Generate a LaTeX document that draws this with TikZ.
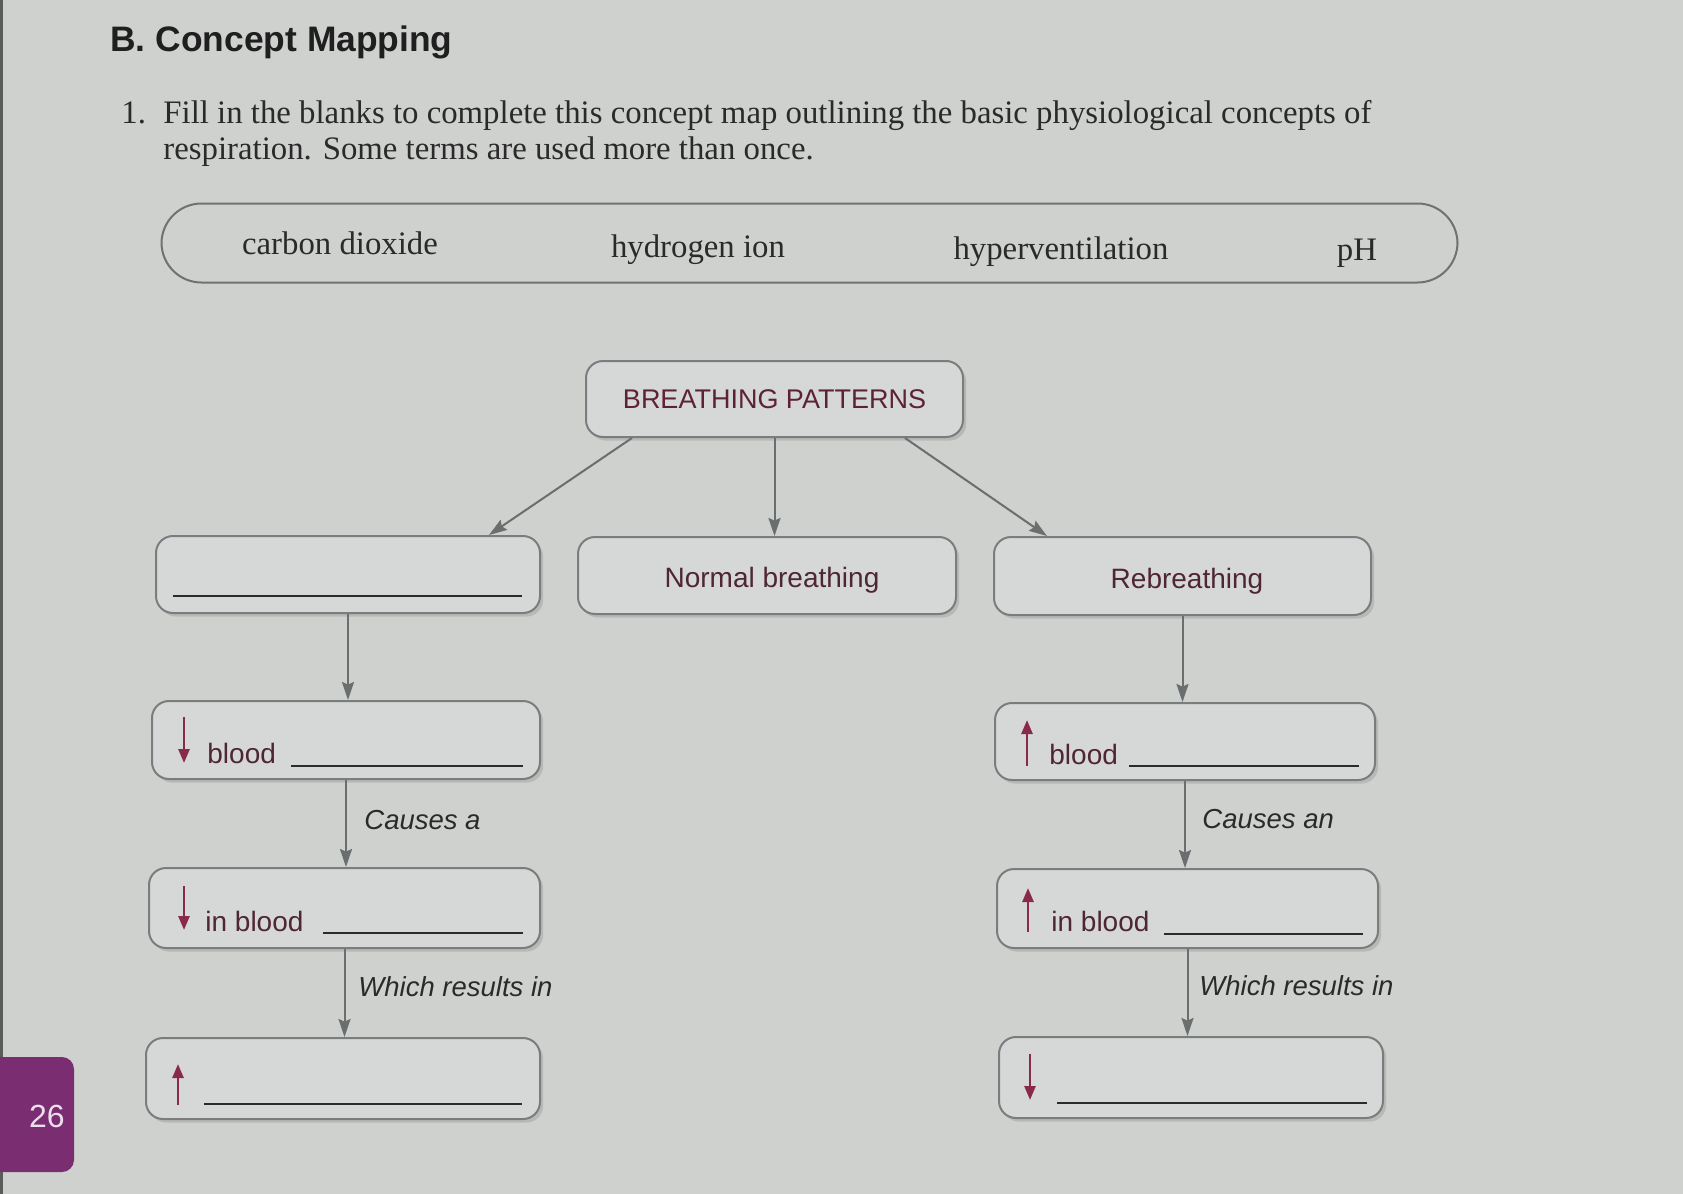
\documentclass[tikz,border=0pt]{standalone}
\usepackage{fontspec}
\setmainfont{Liberation Serif}
\setsansfont{Liberation Sans}
\usetikzlibrary{arrows.meta,shadows}
\definecolor{bg}{HTML}{CFD1CF}
\definecolor{boxfill}{HTML}{D5D8D6}
\definecolor{boxline}{HTML}{7A7D7E}
\definecolor{connc}{HTML}{6A6E6F}
\definecolor{arrc}{HTML}{8A2A4A}
\definecolor{maroon}{HTML}{4E2634}
\definecolor{maroonbp}{HTML}{5E2236}
\definecolor{blankc}{HTML}{2B2B2B}
\definecolor{lblc}{HTML}{2A2A2A}
\definecolor{bodyc}{HTML}{2A2A2A}
\definecolor{titlec}{HTML}{1F1F1F}
\definecolor{bankline}{HTML}{6E7272}
\definecolor{tabc}{HTML}{7B2D72}
\definecolor{tabtxt}{HTML}{EADFEA}
\definecolor{edgec}{HTML}{5A5C5C}
\begin{document}
\begin{tikzpicture}[x=0.5pt,y=-0.5pt,
  box/.style={draw=boxline,fill=boxfill,line width=1pt,rounded corners=8.5pt,inner sep=0pt,
     drop shadow={shadow xshift=1.6pt,shadow yshift=-1.8pt,opacity=0.18,fill=black!70}},
  conn/.style={draw=connc,line width=1pt,-{Stealth[length=9pt,width=6pt,inset=1.3pt]}},
  smallarr/.style={draw=arrc,line width=1.3pt,-{Triangle[length=7pt,width=5.5pt]}},
  blank/.style={draw=blankc,line width=1.1pt},
  boxtxt/.style={font=\sffamily\fontsize{14pt}{16pt}\selectfont,text=maroon,inner sep=0pt},
  lbl/.style={font=\sffamily\itshape\fontsize{13.75pt}{16pt}\selectfont,text=lblc,inner sep=0pt,anchor=base west},
  serif/.style={font=\fontsize{16.4pt}{20pt}\selectfont,text=bodyc,inner sep=0pt},
]
\fill[bg] (0,0) rectangle (1683,1194);
\useasboundingbox (0,0) rectangle (1683,1194);
\clip (0,0) rectangle (1683,1194);
\fill[edgec] (0,0) rectangle (3,1194);

% heading and question
\node[anchor=base west,inner sep=0pt,font=\sffamily\bfseries\fontsize{17.7pt}{20pt}\selectfont,text=titlec] (title) at (110,51) {B. Concept Mapping};
\node[serif,anchor=base west] (num) at (121,123) {1.};
\node[serif,anchor=base west] (q1) at (163,123) {Fill in the blanks to complete this concept map outlining the basic physiological concepts of};
\node[serif,anchor=base west] (q2) at (163,159) {respiration. Some terms are used more than once.};

% word bank
\node[draw=bankline,line width=1pt,rounded corners=20pt,minimum width=648pt,minimum height=39.5pt,inner sep=0pt] (bank) at (809.5,243) {};
\node[serif,anchor=base] (t1) at (340,254) {carbon dioxide};
\node[serif,anchor=base] (t2) at (698,257) {hydrogen ion};
\node[serif,anchor=base] (t3) at (1061,259) {hyperventilation};
\node[serif,anchor=base] (t4) at (1357,260) {pH};

% boxes
\node[box,minimum width=188.5pt,minimum height=38pt,font=\sffamily\fontsize{13.5pt}{16pt}\selectfont,text=maroonbp] (bp) at (774.5,399) {BREATHING PATTERNS};
\node[box,minimum width=192pt,minimum height=38.5pt] (b1) at (348,574.5) {};
\node[box,minimum width=189pt,minimum height=38.5pt] (b2) at (767,575.5) {};
\node[box,minimum width=188.5pt,minimum height=39pt] (b3) at (1182.5,576) {};
\node[box,minimum width=194pt,minimum height=39pt] (l1) at (346,740) {};
\node[box,minimum width=190pt,minimum height=38.5pt] (r1) at (1185,741.5) {};
\node[box,minimum width=195.5pt,minimum height=40pt] (l2) at (344.5,908) {};
\node[box,minimum width=190.5pt,minimum height=39.5pt] (r2) at (1187.5,908.5) {};
\node[box,minimum width=197pt,minimum height=40.5pt] (l3) at (343,1078.5) {};
\node[box,minimum width=192pt,minimum height=40.5pt] (r3) at (1191,1077.5) {};
\node[boxtxt,anchor=base] (b2t) at (772,587) {Normal breathing};
\node[boxtxt,anchor=base] (b3t) at (1187,588) {Rebreathing};

% connectors
\draw[conn] ([xshift=23.5pt]bp.south west) -- ([xshift=-26pt]b1.north east);
\draw[conn] (bp.south) -- (bp.south |- b2.north);
\draw[conn] ([xshift=-29.5pt]bp.south east) -- ([xshift=27pt]b3.north west);
\draw[conn] (b1.south) -- (b1.south |- l1.north);
\draw[conn] (l1.south) -- (l1.south |- l2.north);
\draw[conn] (l2.south) -- (l2.south |- l3.north);
\draw[conn] (b3.south) -- (b3.south |- r1.north);
\draw[conn] (r1.south) -- (r1.south |- r2.north);
\draw[conn] (r2.south) -- (r2.south |- r3.north);

% connector labels
\node[lbl] (la) at (364,829) {Causes a};
\node[lbl] (ra) at (1202,828) {Causes an};
\node[lbl] (lb) at (358,996) {Which results in};
\node[lbl] (rb) at (1199,995) {Which results in};

% box contents
\draw[blank] (173,596) -- (522,596);

\draw[smallarr] (184,717) -- (184,763);
\node[boxtxt,anchor=base west] (l1t) at (207,763) {blood};
\draw[blank] (291,766) -- (523,766);

\draw[smallarr] (184,886) -- (184,930);
\node[boxtxt,anchor=base west] (l2t) at (205,931) {in blood};
\draw[blank] (323,933) -- (523,933);

\draw[smallarr] (178,1105) -- (178,1064);
\draw[blank] (204,1104) -- (522,1104);

\draw[smallarr] (1027,766) -- (1027,720);
\node[boxtxt,anchor=base west] (r1t) at (1049,764) {blood};
\draw[blank] (1129,766) -- (1359,766);

\draw[smallarr] (1028,932) -- (1028,888);
\node[boxtxt,anchor=base west] (r2t) at (1051,931) {in blood};
\draw[blank] (1164,934) -- (1363,934);

\draw[smallarr] (1030,1054) -- (1030,1100);
\draw[blank] (1057,1103) -- (1367,1103);

% page tab
\fill[tabc,rounded corners=6pt] (-20,1057) rectangle (74,1172);
\node[font=\sffamily\fontsize{16pt}{18pt}\selectfont,text=tabtxt,inner sep=0pt] (pg) at (47,1116) {26};
\end{tikzpicture}
\end{document}
